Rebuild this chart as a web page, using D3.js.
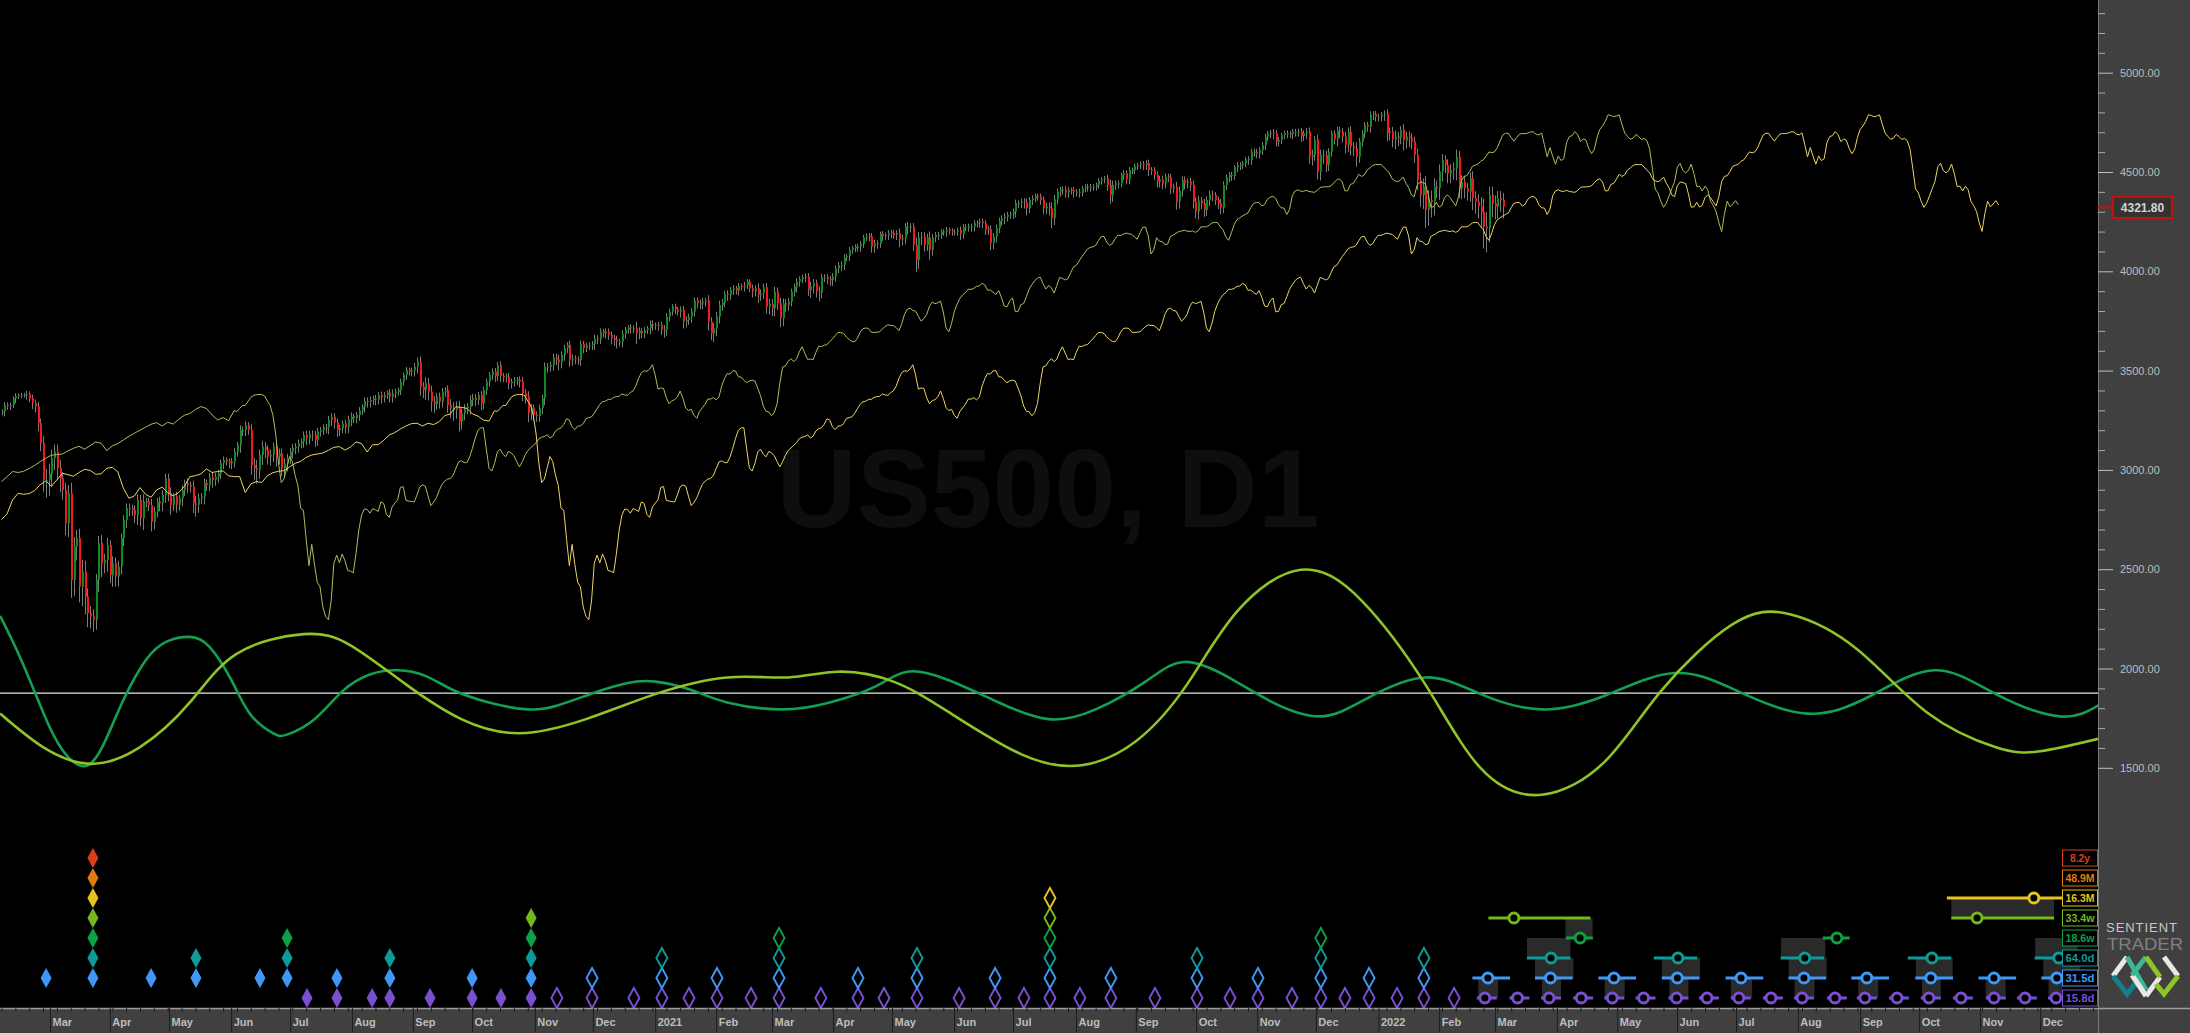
<!DOCTYPE html>
<html><head><meta charset="utf-8">
<script src="https://cdnjs.cloudflare.com/ajax/libs/d3/7.8.5/d3.min.js"></script>
<style>html,body{margin:0;padding:0;background:#000;overflow:hidden}svg{display:block}text{font-family:"Liberation Sans",Arial,sans-serif}</style>
</head><body><svg id="c" width="2190" height="1033"></svg>
<script>
// ---- price series, one close per daily bar ----
const closes=[3294,3327,3322,3327,3361,3372,3376,3379,3379,3383,3361,3336,3319,3235,3134,2950,2950,2983,3059,3092,3008,2958,2899,2731,2882,2446,2614,2656,2413,2488,2362,2278,2262,2245,2446,2631,2530,2547,2622,2471,2530,2463,2513,2656,2748,2807,2807,2799,2773,2849,2757,2841,2841,2824,2740,2790,2841,2832,2874,2958,2882,2824,2866,2824,2857,2899,2933,2924,2916,2832,2824,2857,2866,2933,2924,2966,2950,2966,2983,3034,3050,3042,3034,3042,3092,3126,3201,3201,3226,3201,
3025,3008,3000,3075,3117,3100,3067,3075,3117,3067,3083,3008,3033,3058,3092,3109,3117,3134,3142,3176,3159,3181,3176,3151,3193,3201,3214,3214,3251,3268,3238,3201,3209,3234,3214,3255,3268,3260,3276,3298,3318,3347,3344,3352,3360,3355,3377,3365,3377,3389,3369,3386,3394,3402,3444,3478,3503,3495,3500,3520,3545,3419,3402,3436,3394,3344,3332,3369,3344,3394,3402,3327,3310,3302,3318,3243,3285,3310,3318,3352,3365,3352,3377,3335,3402,3444,3478,3495,3473,3528,
3473,3467,3470,3436,3445,3453,3453,3445,3386,3369,3285,3311,3277,3272,3311,3361,3520,3520,3529,3567,3557,3541,3579,3613,3629,3554,3562,3557,3554,3634,3613,3629,3629,3634,3663,3658,3697,3688,3697,3680,3663,3655,3646,3646,3685,3705,3718,3713,3713,3688,3700,3688,3705,3713,3735,3730,3725,3730,3705,3705,3772,3797,3822,3809,3797,3806,3747,3755,3772,3797,3853,3839,3839,3848,3853,3747,3688,3713,3772,3831,3843,3886,3881,3906,3915,3903,3926,3923,3931,3948,
3915,3898,3915,3881,3890,3920,3822,3836,3814,3898,3839,3764,3839,3831,3848,3898,3923,3948,3960,3970,3973,3906,3923,3940,3898,3893,3970,3970,3960,3957,3973,4015,4032,4032,4071,4077,4108,4116,4124,4124,4138,4171,4178,4175,4124,4141,4138,4188,4178,4183,4192,4195,4183,4192,4161,4166,4225,4225,4225,4133,4057,4171,4175,4133,4171,4108,4171,4183,4183,4200,4200,4208,4205,4200,4200,4208,4188,4222,4225,4225,4225,4242,4245,4250,4242,4208,4212,4141,4175,4217,4255,
4267,4275,4284,4289,4301,4343,4343,4351,4346,4317,4359,4368,4379,4376,4359,4317,4326,4317,4267,4363,4401,4410,4413,4396,4410,4406,4401,4401,4396,4418,4426,4426,4426,4426,4435,4457,4463,4468,4435,4384,4435,4443,4443,4485,4494,4463,4510,4510,4530,4535,4541,4535,4544,4510,4510,4485,4452,4463,4443,4477,4473,4418,4426,4351,4406,4460,4443,4452,4435,4351,4301,4356,4343,4309,4359,4389,4384,4359,4343,4322,4435,4473,4485,4480,4524,4535,4535,4544,4564,4561,
4602,4602,4594,4611,4636,4678,4695,4698,4695,4653,4661,4686,4695,4695,4691,4703,4703,4703,4681,4695,4703,4577,4586,4664,4502,4586,4586,4535,4602,4695,4664,4708,4703,4678,4636,4703,4628,4619,4577,4653,4695,4737,4728,4787,4792,4779,4779,4787,4792,4695,4703,4664,4678,4670,4712,4658,4678,4670,4653,4586,4460,4384,4426,4309,4359,4351,4426,4418,4502,4560,4535,4493,4510,4518,4577,4418,4451,4418,4401,4468,4368,4351,4326,4300,4225,4216,4384,4342,4326,4368,4359,4326];
// ---- high/low reach of each bar beyond its body, in index points ----
const wicks=[20,25,20,20,15,25,15,15,15,25,20,30,30,40,40,60,90,80,70,60,60,70,50,60,70,90,80,70,80,100,90,70,60,60,50,60,70,50,60,40,60,50,50,40,40,40,40,30,40,50,40,60,30,30,50,40,30,40,40,40,40,50,30,40,30,40,30,40,30,50,60,40,30,40,30,30,40,30,30,30,30,20,25,30,30,25,40,30,30,25,
50,60,70,45,50,40,40,45,35,50,40,40,45,40,30,35,30,30,25,30,35,30,30,35,30,25,25,30,35,30,30,35,30,25,30,30,35,25,25,30,20,30,30,30,25,30,25,30,25,20,30,30,25,20,25,20,25,20,25,30,35,45,40,50,45,50,45,30,35,30,25,40,50,55,45,50,40,35,30,40,30,30,25,35,30,25,25,25,30,25,
30,25,25,30,25,25,25,30,40,35,45,35,30,30,30,30,35,30,25,30,30,40,30,30,25,35,30,25,25,30,25,20,25,25,30,25,25,20,25,25,30,30,35,25,30,25,20,25,25,55,30,25,25,20,30,30,20,25,25,40,30,25,20,25,20,30,35,30,25,30,25,25,30,30,25,45,35,45,40,35,30,25,30,25,25,20,25,20,25,20,
20,30,25,40,30,30,35,40,40,40,35,45,40,35,30,25,25,30,25,20,25,30,40,35,30,45,30,25,25,30,30,25,25,30,25,20,25,20,20,25,25,20,20,25,30,30,25,20,25,20,25,25,20,25,40,30,30,40,30,30,60,45,40,35,30,50,30,25,25,20,20,25,20,20,20,20,30,25,20,25,25,25,20,25,25,25,25,35,30,30,25,
25,30,25,20,25,30,25,25,30,35,25,25,20,20,25,30,30,35,50,35,25,25,25,25,25,20,30,25,25,20,20,25,25,20,20,20,20,20,30,45,35,25,25,20,25,25,25,20,20,20,20,25,25,30,25,25,30,30,30,25,25,30,25,40,35,30,30,25,30,35,35,40,30,35,30,30,30,25,30,35,30,25,25,25,20,25,25,20,20,25,
25,25,25,25,25,25,20,25,30,25,25,20,20,25,20,25,25,25,30,25,30,35,45,30,40,45,45,35,30,25,25,35,30,30,40,35,45,40,50,30,25,25,25,30,25,25,25,25,30,40,35,40,50,40,30,50,40,45,40,40,50,60,70,90,80,80,70,50,60,50,40,50,50,50,60,50,55,50,45,50,60,60,60,80,110,120,70,70,65,60,60,60];
// ---- displaced-price lines: part that began before the first visible bar, one value per two bars ----
const greenHead=[2941,2966,2992,2987,2993,3007,3023,3042,3059,3074,3077,3080,3096,3109,3119,3104,3122,3141,3134,3097,3121,3132,3151,3169,3185,3200,3215,3230,3238,3221,3240,3231,3255,3275,3284,3304,3319,3309,3277,3252,3263,3248,3299];
const yellowHead=[2750,2778,2849,2882,2877,2881,2896,2926,2945,2918,2950,2983,2976,2968,2987,3003,2997,2978,2980,3008,3013,2990,2908,2857,2869,2911,2877,2862,2899,2913,2886,2869,2886,2916,2966,2971,2980,3005,2987,2992,2995,2970,2966,2966,2886,
2929,2941,2937,2971,2986,2993,2996,3015,3033,3043,3063,3075,3080,3085,3099,3114,3117,3100,3115,3141,3132,3090,3127,3127,3149,3176,3188,3206,3221,3233,3235,3221,3235,3228,3243,3273,3282,3318,3315,3310,3282,3271,3251,3246,3298];
const greenShift=85, yellowShift=179;
// ---- cycle composite waves ----
const waveGreenBars=[-0.5,7,15,22,32,42,52,60,68,75,83,90,98,103,113,123,133,143,153,163,176,190,201,214,226,236,249,262,282,299,315,327,342,360,378,395,413,427,443,458,476,493,514,534,556,579,604,627,652,675,698,720,743,757];
const waveGreenVals=[2265,2047,1780,1590,1520,1780,2040,2138,2159,2110,1941,1766,1674,1667,1745,1885,1970,1991,1963,1892,1829,1794,1815,1878,1927,1934,1892,1829,1794,1829,1906,1984,1941,1829,1745,1794,1934,2033,1955,1836,1759,1850,1955,1871,1794,1864,1977,1885,1773,1864,1991,1871,1759,1815];
const waveLimeBars=[-0.5,15,32,50,68,85,109,126,146,166,187,211,236,262,284,302,322,342,368,390,410,428,446,469,491,514,534,556,579,599,625,646,670,695,720,736,757];
const waveLimeVals=[1773,1604,1520,1604,1829,2075,2173,2117,1920,1745,1674,1745,1871,1955,1955,1984,1934,1780,1569,1513,1639,1920,2286,2497,2342,1920,1498,1364,1534,1885,2223,2272,2096,1780,1604,1583,1646];
const waveZero=1876;
// ---- axes ----
const priceMajor=[5000,4500,4000,3500,3000,2500,2000,1500];
const priceMinor=[5300,5200,5100,4900,4800,4700,4600,4400,4300,4200,4100,3900,3800,3700,3600,3400,3300,3200,3100,2900,2800,2700,2600,2400,2300,2200,2100,1900,1800,1700,1600];
const monthBars=[17.5,39.1,60.5,82.9,104.2,126.5,148.5,169.9,192.5,213.5,236,258,278.2,300.2,321.5,343.9,365.2,387.9,409.5,431.3,453.3,474.5,497.1,519,539.2,561.5,583.3,604.9,626.2,648.5,671,692.3,714.3,736];
const monthLabels=['Mar','Apr','May','Jun','Jul','Aug','Sep','Oct','Nov','Dec','2021','Feb','Mar','Apr','May','Jun','Jul','Aug','Sep','Oct','Nov','Dec','2022','Feb','Mar','Apr','May','Jun','Jul','Aug','Sep','Oct','Nov','Dec'];
const lastPrice=4321.80;
// ---- cycle rows, lowest to highest ----
const cycleNames=['15.8d','31.5d','64.0d','18.6w','33.4w','16.3M','48.9M','8.2y'];
const cycleColors=['#7a4fd0','#3f98f5','#0f9a9a','#0ea044','#74b81c','#e6c21c','#e27a10','#d8401a'];
const pastTroughs=[
 [110.3,121.1,133.8,140.2,154.7,169.9,180.3,191.2,200.5,213.2,228.3,238.4,248.2,258.3,270.6,280.7,295.8,309.2,318.6,330.5,345.7,358.7,369.1,378.5,389.3,400.5,416.4,431.6,443.5,453.6,465.9,476.3,485,493.7,503.8,513.5,524.4],
 [16.1,33,54,70.2,93.3,103.1,121.1,140.2,169.9,191.2,213.2,238.4,258.3,280.7,309.2,330.5,358.7,378.5,400.5,431.6,453.6,476.3,493.7,513.5],
 [33,70.2,103.1,140.2,191.2,238.4,280.7,330.5,378.5,431.6,476.3,513.5],
 [33,103.1,191.2,280.7,378.5,476.3],
 [33,191.2,378.5],
 [33,378.5],
 [33],
 [33]];
const solidThrough=191.2;
const futureTroughs=[
 [535.5,547.3,558.7,570.3,581.5,592.8,604.7,615.7,627.2,638.8,650,661.9,672.7,684.3,695.8,707.4,719.3,730.5,741.7],
 [536.6,559.2,582.1,605,628,650.7,673.4,696.5,719.3,742],
 [559.4,605.2,651,696.9,742.7],
 [569.9,662.6],
 [546,713.2],
 [733.7]];
const futureFrom=[[532.6,544.4,555.8,567.4,578.6,589.9,601.8,612.8,624.3,635.9,647.1,659,669.8,681.4,692.9,704.5,716.4,727.6,738.8],
 [531,553.6,576.5,599.4,622.4,645.1,667.8,690.9,713.7,736.4],
 [550.7,596.5,642.3,688.2,734],
 [564.8,657.5],
 [536.8,703.9],
 [702.3]];
const futureTo=[[539.8,551.6,563,574.6,585.8,597.1,609,620,631.5,643.1,654.3,666.2,677,688.6,700.1,711.7,723.6,734.8,746],
 [544.6,567.2,590.1,613,636,658.7,681.4,704.5,727.3,750],
 [566.4,612.2,658,703.9,749.7],
 [574.5,667.2],
 [573.6,741],
 [746]];
const windowRow=[0,0,0,0,0,0,0,0,0,0,1,1,1,1,1,2,2,2,3,4];
const windowFrom=[533.1,556.1,578.8,602.1,624.3,647.3,670.3,693.3,716.3,739,553.6,599.4,645.2,691.1,737.1,550.7,642.4,734.2,564.6,703.9];
const windowTo=[540.3,563,586,609,632,654.5,677.5,700.1,723.5,743.9,567.5,613.2,658.9,704.4,750.4,566.4,658.4,749.5,574.4,741];

// ---- scales ----
const plotR=2098, plotB=1008;
const x=d3.scaleLinear().domain([0,757]).range([1.5,1.5+757*2.77]);
const y=d3.scaleLinear().domain([5000,1500]).range([72.7,767.8]);
const rowY=d3.scaleLinear().domain([0,7]).range([998,858]);
const svg=d3.select('#c');
svg.append('rect').attr('width',2190).attr('height',1033).attr('fill','#000');
svg.append('defs').append('clipPath').attr('id','plot').append('rect').attr('width',plotR).attr('height',plotB);
const plot=svg.append('g').attr('clip-path','url(#plot)');

// watermark
plot.append('text').attr('x',1048).attr('y',527).attr('text-anchor','middle').attr('font-size',111).attr('font-weight','bold').attr('fill','#0e0e0e').text('US500, D1');

// candles
const bars=closes.map((c,i)=>{const o=i?closes[i-1]:c;return{i,o,c,h:Math.max(o,c)+wicks[i]*0.6,l:Math.min(o,c)-wicks[i]}});
plot.append('g').selectAll('line').data(bars).join('line')
 .attr('x1',d=>Math.round(x(d.i))+.5).attr('x2',d=>Math.round(x(d.i))+.5)
 .attr('y1',d=>y(d.h)).attr('y2',d=>y(d.l)).attr('stroke','#7c7c7c').attr('stroke-width',1);
plot.append('g').selectAll('rect').data(bars).join('rect')
 .attr('x',d=>Math.round(x(d.i))).attr('width',2)
 .attr('y',d=>y(Math.max(d.o,d.c))).attr('height',d=>Math.max(1,Math.abs(y(d.o)-y(d.c))))
 .attr('fill',d=>d.c>=d.o?'#0e8a26':'#f5191c');

// displaced-price lines: bar median shifted forward
const priceLine=d3.line().x(d=>x(d[0])).y(d=>y(d[1]));
const displaced=(head,shift)=>head.map((v,k)=>[k*2,v]).concat(bars.map(b=>[b.i+shift,(b.h+b.l)/2+4]));
plot.append('path').attr('d',priceLine(displaced(greenHead,greenShift))).attr('fill','none').attr('stroke','#a6c258').attr('stroke-width',1);
plot.append('path').attr('d',priceLine(displaced(yellowHead,yellowShift))).attr('fill','none').attr('stroke','#ecd566').attr('stroke-width',1);

// zero line and waves
plot.append('line').attr('x1',0).attr('x2',plotR).attr('y1',y(waveZero)).attr('y2',y(waveZero)).attr('stroke','#e8e8e8').attr('stroke-width',1.4);
const wave=d3.line().x(d=>x(d[0])).y(d=>y(d[1])).curve(d3.curveNatural);
plot.append('path').attr('d',wave(waveGreenBars.map((b,i)=>[b,waveGreenVals[i]]))).attr('fill','none').attr('stroke','#12a053').attr('stroke-width',2.6);
plot.append('path').attr('d',wave(waveLimeBars.map((b,i)=>[b,waveLimeVals[i]]))).attr('fill','none').attr('stroke','#8fc326').attr('stroke-width',2.6);

// forecast windows
plot.append('g').selectAll('rect').data(windowRow).join('rect')
 .attr('x',(r,i)=>x(windowFrom[i])).attr('width',(r,i)=>x(windowTo[i])-x(windowFrom[i]))
 .attr('y',r=>rowY(r+1)).attr('height',r=>rowY(r)-rowY(r+1)).attr('fill','#2a2a2a');

// past troughs: diamonds
const diamond=d=>{const cy=rowY(d.r),cx=x(d.b);return `M${cx},${cy-10}L${cx+5.5},${cy}L${cx},${cy+10}L${cx-5.5},${cy}Z`};
const marks=pastTroughs.flatMap((a,r)=>a.map(b=>({r,b})));
plot.append('g').selectAll('path').data(marks).join('path').attr('d',diamond)
 .attr('fill',d=>d.b<=solidThrough?cycleColors[d.r]:'none')
 .attr('stroke',d=>d.b<=solidThrough?'none':cycleColors[d.r]).attr('stroke-width',1.9);

// future troughs: spans and rings
futureTroughs.forEach((a,r)=>{
 const g=plot.append('g');
 g.selectAll('line').data(a).join('line')
  .attr('x1',(b,i)=>x(futureFrom[r][i])).attr('x2',(b,i)=>x(futureTo[r][i]))
  .attr('y1',rowY(r)).attr('y2',rowY(r)).attr('stroke',cycleColors[r]).attr('stroke-width',3);
 g.selectAll('circle').data(a).join('circle').attr('cx',b=>x(b)).attr('cy',rowY(r)).attr('r',5)
  .attr('fill','#000').attr('stroke',cycleColors[r]).attr('stroke-width',3);
});

// cycle labels
const lab=plot.append('g').selectAll('g').data(cycleNames).join('g');
lab.append('rect').attr('x',2062.5).attr('width',35).attr('y',(d,i)=>rowY(i)-8).attr('height',16)
 .attr('fill','#000').attr('stroke',(d,i)=>cycleColors[i]).attr('stroke-width',1);
lab.append('text').attr('x',2080).attr('y',(d,i)=>rowY(i)+4).attr('text-anchor','middle').attr('font-size',11).attr('font-weight','bold')
 .attr('fill',(d,i)=>cycleColors[i]).attr('textLength',d=>d.length>4?29:20).attr('lengthAdjust','spacingAndGlyphs').text(d=>d);

// right panel
svg.append('rect').attr('x',plotR).attr('y',0).attr('width',92).attr('height',1033).attr('fill','#404040');
svg.append('line').attr('x1',plotR+.5).attr('x2',plotR+.5).attr('y1',0).attr('y2',1033).attr('stroke','#7a7a7a');
const axR=svg.append('g').attr('transform',`translate(${plotR},0)`);
axR.call(d3.axisRight(y).tickValues(priceMajor).tickSize(15).tickPadding(7).tickFormat(d3.format('.2f')));
axR.select('.domain').remove();
axR.selectAll('line').attr('stroke','#bdbdbd');
axR.selectAll('text').attr('fill','#bdbdbd').attr('font-size',11).attr('font-family','"Liberation Sans",Arial,sans-serif');
const axM=svg.append('g').attr('transform',`translate(${plotR},0)`);
axM.call(d3.axisRight(y).tickValues(priceMinor).tickSize(7).tickFormat(''));
axM.select('.domain').remove();
axM.selectAll('line').attr('stroke','#a8a8a8');

// last price flag
const ly=y(lastPrice);
svg.append('line').attr('x1',plotR).attr('x2',2113).attr('y1',ly).attr('y2',ly).attr('stroke','#c41010').attr('stroke-width',2);
svg.append('rect').attr('x',2113).attr('y',ly-10.5).attr('width',59).attr('height',21).attr('fill','#333').attr('stroke','#c41010').attr('stroke-width',2);
svg.append('text').attr('x',2142.5).attr('y',ly+4.5).attr('text-anchor','middle').attr('font-size',12).attr('font-weight','bold').attr('fill','#d4d4d4').text(d3.format('.2f')(lastPrice));

// time axis
svg.append('rect').attr('x',0).attr('y',plotB).attr('width',plotR).attr('height',1033-plotB).attr('fill','#404040');
svg.append('line').attr('x1',0).attr('x2',2190).attr('y1',plotB+.5).attr('y2',plotB+.5).attr('stroke','#9c9c9c').attr('stroke-width',1.4);
const axB=svg.append('g').attr('transform',`translate(0,${plotB})`);
axB.call(d3.axisBottom(x).tickValues(monthBars).tickSize(24).tickFormat((d,i)=>monthLabels[i]));
axB.select('.domain').remove();
axB.selectAll('line').attr('stroke','#1c1c1c');
axB.selectAll('text').attr('y',18).attr('dy',0).attr('dx',2).attr('text-anchor','start').attr('fill','#bdbdbd').attr('font-size',11).attr('font-weight','bold').attr('font-family','"Liberation Sans",Arial,sans-serif');
const axW=svg.append('g').attr('transform',`translate(0,${plotB})`);
axW.call(d3.axisBottom(x).tickValues(d3.range(0,757,5)).tickSize(4).tickFormat(''));
axW.select('.domain').remove();
axW.selectAll('line').attr('stroke','#222');

// brand
svg.append('text').attr('x',2106).attr('y',932).attr('font-size',13).attr('fill','#c8c8c8').attr('textLength',71).attr('lengthAdjust','spacing').text('SENTIENT');
svg.append('text').attr('x',2107).attr('y',950).attr('font-size',16).attr('fill','#808080').attr('textLength',76).attr('lengthAdjust','spacingAndGlyphs').text('TRADER');
const logo=svg.append('g').attr('fill','none').attr('stroke-width',5).attr('stroke-linejoin','miter');
[['#e8e8e8','M2113,976L2127,957'],['#13808e','M2113,976L2127,994L2135,984'],['#3bb893','M2127,957L2146,990'],['#e8e8e8','M2146,996L2132,975'],['#3bb893','M2146,957L2132,975'],['#e8e8e8','M2146,996L2160,977'],['#e8e8e8','M2164,957L2178,976'],['#8fc326','M2178,976L2164,994L2156,984'],['#8fc326','M2146,957L2160,977']]
 .forEach(s=>logo.append('path').attr('stroke',s[0]).attr('d',s[1]));
</script></body></html>
